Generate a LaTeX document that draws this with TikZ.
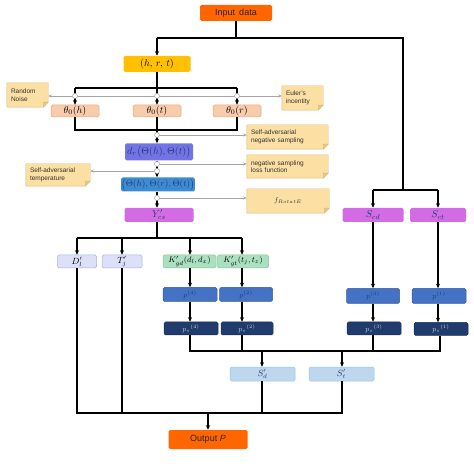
\documentclass[tikz,border=0pt]{standalone}
\usepackage{fontspec}
\setsansfont{Liberation Sans}
\usetikzlibrary{arrows.meta,backgrounds}
\definecolor{orng}{HTML}{FF6600}
\definecolor{gold}{HTML}{FFC000}
\definecolor{peach}{HTML}{F8CBAD}
\definecolor{peachline}{HTML}{E8A878}
\definecolor{notefill}{HTML}{FCDFA2}
\definecolor{noteline}{HTML}{D8B878}
\definecolor{notefold}{HTML}{E8C888}
\definecolor{purp}{HTML}{7373E6}
\definecolor{theblue}{HTML}{3D8BD3}
\definecolor{magen}{HTML}{D26BE4}
\definecolor{lav}{HTML}{DDE0F6}
\definecolor{lavline}{HTML}{A8B0DC}
\definecolor{mint}{HTML}{AADFC0}
\definecolor{mintline}{HTML}{86C5A0}
\definecolor{midblue}{HTML}{4472C4}
\definecolor{navy}{HTML}{203C6C}
\definecolor{skyb}{HTML}{BDD7EE}
\definecolor{skyline}{HTML}{9DC3E6}
\newcommand\notebg[1]{%
  \begin{scope}[on background layer]
    \filldraw[fill=notefill,draw=noteline,line width=0.4pt] (#1.north west) -- (#1.north east) -- ([yshift=5pt]#1.south east) -- ([xshift=-5pt]#1.south east) -- (#1.south west) -- cycle;
    \filldraw[fill=notefold,draw=noteline,line width=0.4pt] ([yshift=5pt]#1.south east) -- ([xshift=-5pt,yshift=5pt]#1.south east) -- ([xshift=-5pt]#1.south east) -- cycle;
  \end{scope}}
\tikzset{
  box/.style={rounded corners=1.5pt, inner sep=0pt, line width=0.5pt, font=\fontsize{9}{10}\selectfont},
  big/.style={font=\fontsize{10}{11}\selectfont},
  sz/.style 2 args={minimum width=#1pt, minimum height=#2pt},
  note/.style={inner sep=0pt, align=left, font=\sffamily\fontsize{6.5}{7.5}\selectfont, text=black!80},
  blk/.style={line width=1.1pt, black},
  arr/.style={-{Stealth[length=4.5pt,width=4pt]}},
  gry/.style={line width=0.6pt, gray!70},
  garr/.style={-{Stealth[length=3.5pt,width=3pt]}, gray!70},
  circ/.style={circle, draw=gray!70, line width=0.5pt, fill=white, inner sep=0pt, minimum size=5pt}
}
\begin{document}
\begin{tikzpicture}[x=1pt,y=-1pt]
\useasboundingbox (0,0) rectangle (474,470);
% ---- nodes
\node[box,fill=orng,sz={72}{16},font=\sffamily\fontsize{9}{10}\selectfont,text=black!85] (in) at (236,13) {Input\, data};
\node[box,big,fill=gold,sz={67}{16}] (hrt) at (157,64) {$(h,\, r,\, t)$};
\node[box,big,fill=peach,draw=peachline,sz={48}{12}] (th) at (75,111) {$\theta_0(h)$};
\node[box,big,fill=peach,draw=peachline,sz={48}{12}] (tt) at (157,111) {$\theta_0(t)$};
\node[box,big,fill=peach,draw=peachline,sz={48}{12}] (tr) at (237,111) {$\theta_0(r)$};
\node[box,big,fill=purp,sz={68}{17},text=navy] (dr) at (159,152) {$d_r\bigl(\Theta(h),\Theta(t)\bigr)$};
\node[box,fill=theblue,sz={69}{14},text=navy] (big) at (158,184.5) {$\bigl(\Theta(h),\Theta(r),\Theta(t)\bigr)$};
\node[box,big,fill=magen,sz={69}{14},text=navy] (ycs) at (159,215) {$Y'_{cs}$};
\node[box,big,fill=magen,sz={61}{14},text=navy] (scd) at (373,215) {$S_{cd}$};
\node[box,big,fill=magen,sz={56}{14},text=navy] (sct) at (438,215) {$S_{ct}$};
% notes
\node[note,minimum width=41pt,minimum height=24pt,text width=33pt] (rn) at (27.5,95) {Random\\Noise};
\node[note,minimum width=41pt,minimum height=24pt,text width=33pt] (eu) at (302.5,98) {Euler's\\incentity};
\node[note,minimum width=81pt,minimum height=24pt,text width=73pt] (san) at (287.5,137) {Self-adversarial\\negative sampling};
\node[note,minimum width=81pt,minimum height=23pt,text width=73pt] (nsl) at (287.5,166.5) {negative sampling\\loss function};
\node[note,minimum width=82pt,minimum height=24pt,font=\fontsize{7}{8}\selectfont] (frot) at (288,201) {$f_{RotatE}$};
\node[note,minimum width=64pt,minimum height=22pt,text width=56pt] (sat) at (58,175) {Self-adversarial\\temperature};
\notebg{rn}\notebg{eu}\notebg{san}\notebg{nsl}\notebg{frot}\notebg{sat}
% second row
\node[box,fill=lav,draw=lavline,sz={39}{13}] (dl) at (77,261.5) {$D'_l$};
\node[box,fill=lav,draw=lavline,sz={40}{13}] (tj) at (122,261.5) {$T'_j$};
\node[box,fill=mint,draw=mintline,sz={53}{13},font=\fontsize{8}{9}\selectfont] (kgd) at (189.5,261.5) {$K'_{gd}(d_l,d_x)$};
\node[box,fill=mint,draw=mintline,sz={51}{13},font=\fontsize{8}{9}\selectfont] (kgt) at (243,261.5) {$K'_{gt}(t_j,t_z)$};
\node[box,fill=midblue,draw=midblue!80!black,sz={54}{14},font=\fontsize{7}{8}\selectfont,text=navy] (p4) at (190,294.5) {$p^{(4)}$};
\node[box,fill=midblue,draw=midblue!80!black,sz={53}{14},font=\fontsize{7}{8}\selectfont,text=navy] (p2) at (246,294.5) {$p^{(2)}$};
\node[box,fill=midblue,draw=midblue!80!black,sz={53}{15},font=\fontsize{7}{8}\selectfont,text=navy] (p3) at (373,296) {$p^{(3)}$};
\node[box,fill=midblue,draw=midblue!80!black,sz={54}{15},font=\fontsize{7}{8}\selectfont,text=navy] (p1) at (439,296) {$p^{(1)}$};
\node[box,fill=navy,draw=navy!80!black,sz={54}{13},font=\fontsize{7}{8}\selectfont,text=gray!35] (ps4) at (191,328.5) {${p_s}^{(4)}$};
\node[box,fill=navy,draw=navy!80!black,sz={52}{13},font=\fontsize{7}{8}\selectfont,text=gray!35] (ps2) at (247,328.5) {${p_s}^{(2)}$};
\node[box,fill=navy,draw=navy!80!black,sz={54}{13},font=\fontsize{7}{8}\selectfont,text=gray!35] (ps3) at (374,328.5) {${p_s}^{(3)}$};
\node[box,fill=navy,draw=navy!80!black,sz={54}{13},font=\fontsize{7}{8}\selectfont,text=gray!35] (ps1) at (441,329) {${p_s}^{(1)}$};
\node[box,fill=skyb,draw=skyline,sz={65}{14},text=navy] (sd) at (262.5,374) {$S'_d$};
\node[box,fill=skyb,draw=skyline,sz={65}{14},text=navy] (st) at (341.5,374) {$S'_t$};
\node[box,fill=orng,sz={79}{19},font=\sffamily\fontsize{9}{10}\selectfont,text=black!85] (out) at (208,439.5) {Output \textit{P}};
% ---- coordinates
\coordinate (j0) at (236,38);
\coordinate (jL) at (157,38);
\coordinate (jR) at (403,38);
\coordinate (jR2) at (403,190);
\coordinate (jRa) at (373,190);
\coordinate (jRb) at (438,190);
\coordinate (t0) at (75,88);
\coordinate (t1) at (157,88);
\coordinate (t2) at (237,88);
\coordinate (u0) at (75,130);
\coordinate (u2) at (237,130);
\coordinate (c1) at (75,96);
\coordinate (c2) at (157,96);
\coordinate (c3) at (237,96);
\coordinate (c4) at (157,135);
\coordinate (c5) at (157,164);
\coordinate (c6) at (157,171);
\coordinate (c7) at (157,198);
\coordinate (vm) at (157,238);
\coordinate (v1) at (77,238);
\coordinate (v2) at (122,238);
\coordinate (v3) at (190,238);
\coordinate (v4) at (242,238);
\coordinate (w4) at (190,351);
\coordinate (w2) at (242,351);
\coordinate (w3) at (373,351);
\coordinate (w1) at (440,351);
\coordinate (wd) at (262,351);
\coordinate (wt) at (342,351);
\coordinate (z1) at (77,413);
\coordinate (z2) at (122,413);
\coordinate (z3) at (262,413);
\coordinate (z4) at (342,413);
\coordinate (zo) at (208,413);
% ---- black connectors
\draw[blk] (in.south) -- (j0);
\draw[blk] (jL) -- (jR) -- (jR2);
\draw[blk,arr] (jL) -- (hrt.north);
\draw[blk] (jRa) -- (jRb);
\draw[blk,arr] (jRa) -- (scd.north);
\draw[blk,arr] (jRb) -- (sct.north);
\draw[blk] (hrt.south) -- (t1);
\draw[blk] (t0) -- (t2);
\draw[blk,arr] (t0) -- (th.north);
\draw[blk,arr] (t1) -- (tt.north);
\draw[blk,arr] (t2) -- (tr.north);
\draw[blk] (th.south) -- (u0) -- (u2) -- (tr.south);
\draw[blk,arr] (tt.south) -- (c4) -- (c4 |- dr.north);
\draw[blk,arr] (c5 |- dr.south) -- (c5 |- big.north);
\draw[blk,arr] (c7 |- big.south) -- (c7 |- ycs.north);
\draw[blk] (vm |- ycs.south) -- (vm);
\draw[blk] (v1) -- (v4);
\draw[blk,arr] (v1) -- (dl.north);
\draw[blk,arr] (v2) -- (tj.north);
\draw[blk,arr] (v3) -- (v3 |- kgd.north);
\draw[blk,arr] (v4) -- (v4 |- kgt.north);
\draw[blk,arr] (v3 |- kgd.south) -- (v3 |- p4.north);
\draw[blk,arr] (v4 |- kgt.south) -- (v4 |- p2.north);
\draw[blk,arr] (v3 |- p4.south) -- (v3 |- ps4.north);
\draw[blk,arr] (v4 |- p2.south) -- (v4 |- ps2.north);
\draw[blk,arr] (jRa |- scd.south) -- (jRa |- p3.north);
\draw[blk,arr] (jRb |- sct.south) -- (jRb |- p1.north);
\draw[blk,arr] (jRa |- p3.south) -- (jRa |- ps3.north);
\draw[blk,arr] (jRb |- p1.south) -- (jRb |- ps1.north);
\draw[blk] (w4 |- ps4.south) -- (w4) -- (w1) -- (w1 |- ps1.south);
\draw[blk] (w2 |- ps2.south) -- (w2);
\draw[blk] (w3 |- ps3.south) -- (w3);
\draw[blk,arr] (wd) -- (wd |- sd.north);
\draw[blk,arr] (wt) -- (wt |- st.north);
\draw[blk] (dl.south) -- (z1) -- (z4) -- (z4 |- st.south);
\draw[blk] (tj.south) -- (z2);
\draw[blk] (z3 |- sd.south) -- (z3);
\draw[blk,arr] (zo) -- (out.north);
% ---- gray connectors
\draw[gry,garr] (c1) -- (c1 -| rn.east);
\draw[gry] (c1) -- (c3);
\draw[gry,garr] (c3) -- (c3 -| eu.west);
\draw[gry,garr] (c4) -- (c4 -| san.west);
\draw[gry,garr] (c5) -- (c5 -| nsl.west);
\draw[gry,garr] (c6) -- (c6 -| sat.east);
\draw[gry,garr] (c7) -- (c7 -| frot.west);
% ---- junction circles
\node[circ] (k1) at (c1) {};
\node[circ] (k2) at (c2) {};
\node[circ] (k3) at (c3) {};
\node[circ] (k4) at (c4) {};
\node[circ] (k5) at (c5) {};
\node[circ] (k6) at (c6) {};
\node[circ] (k7) at (c7) {};
\end{tikzpicture}
\end{document}
